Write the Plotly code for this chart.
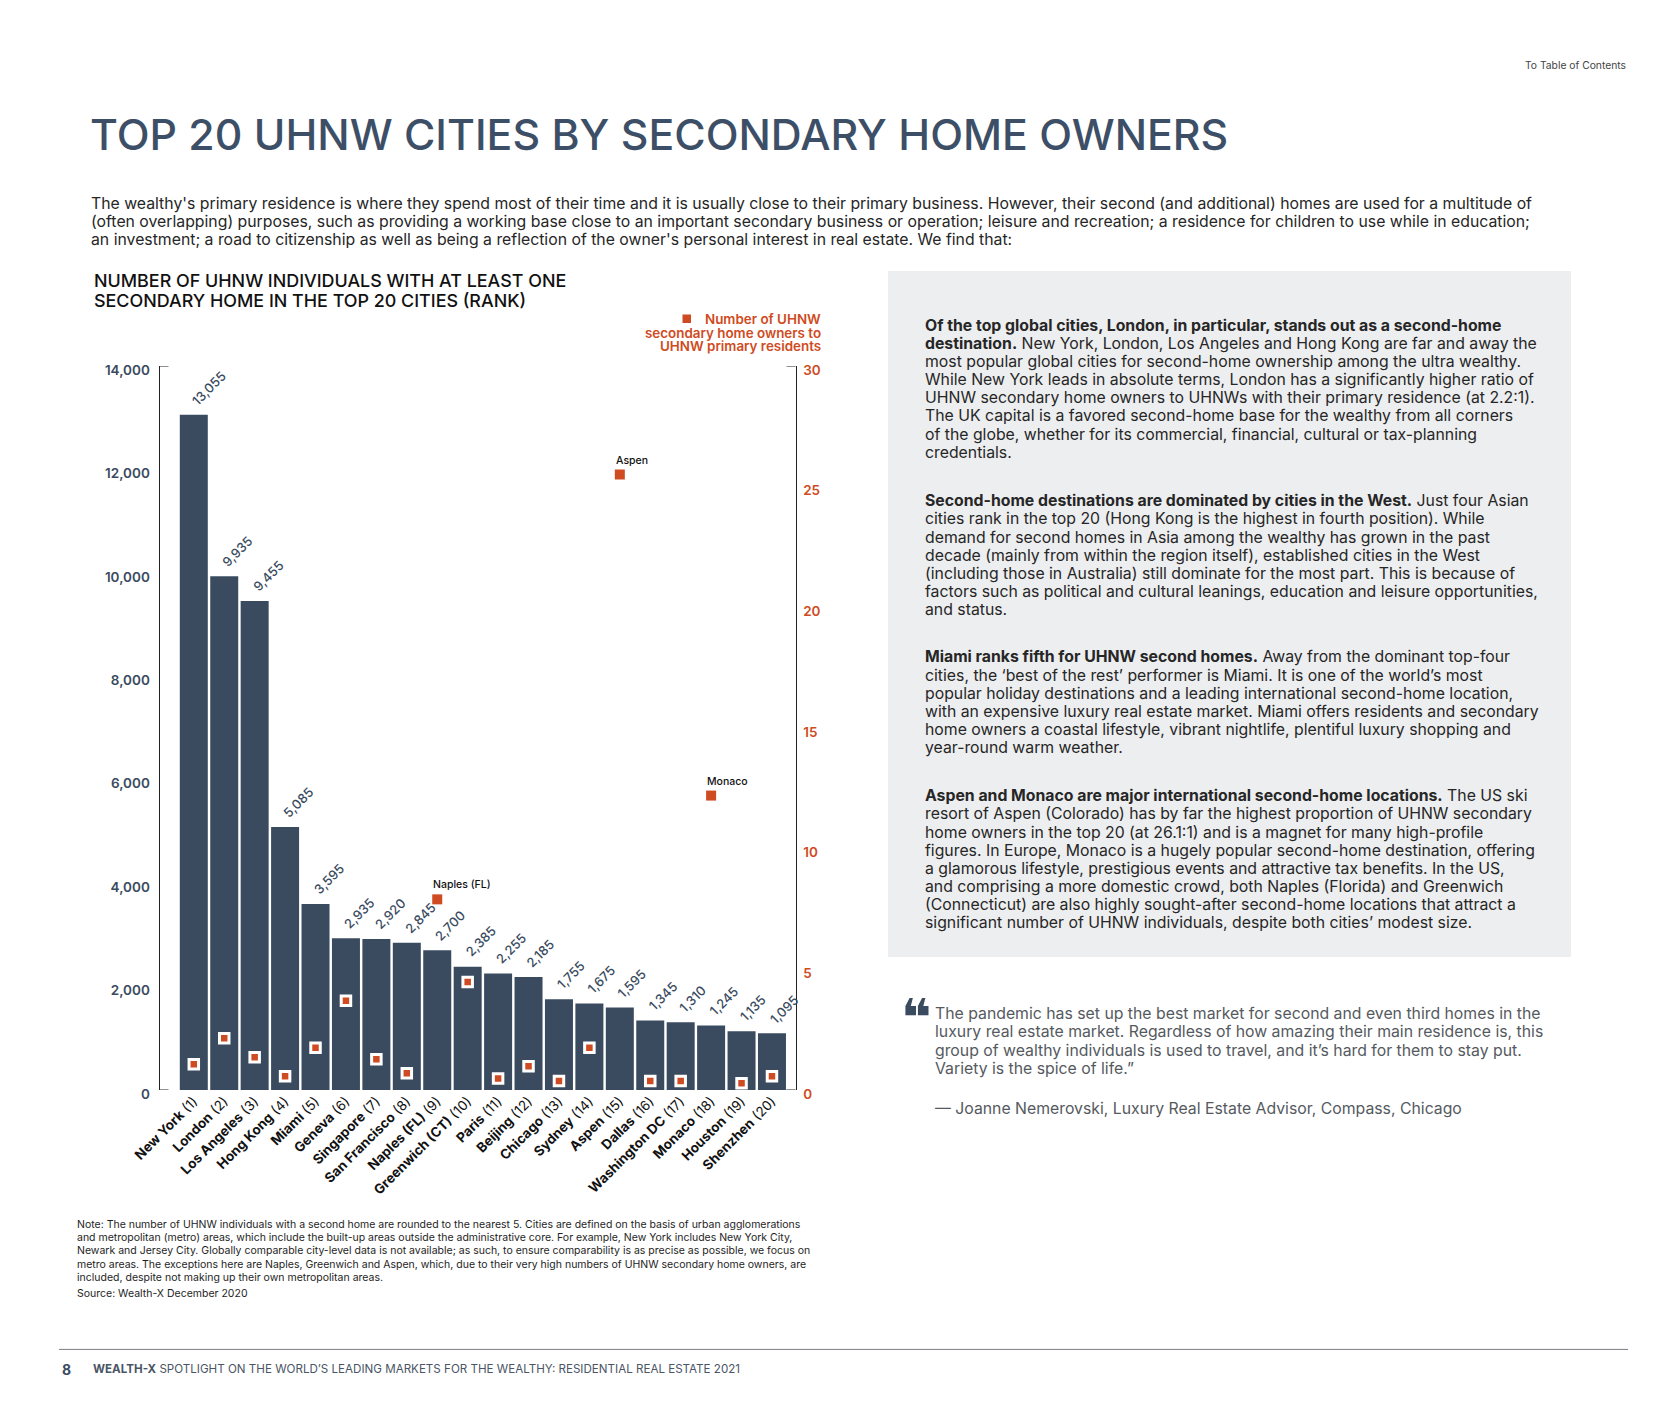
import plotly.graph_objects as go

# ---------------- data ----------------
cities = ["New York", "London", "Los Angeles", "Hong Kong", "Miami", "Geneva",
          "Singapore", "San Francisco", "Naples (FL)", "Greenwich (CT)", "Paris",
          "Beijing", "Chicago", "Sydney", "Aspen", "Dallas", "Washington DC",
          "Monaco", "Houston", "Shenzhen"]
ranks = list(range(1, 21))
owners = [13055, 9935, 9455, 5085, 3595, 2935, 2920, 2845, 2700, 2385,
          2255, 2185, 1755, 1675, 1595, 1345, 1310, 1245, 1135, 1095]
ratio = [1.07, 2.14, 1.36, 0.57, 1.75, 3.7, 1.27, 0.69, 7.9, 4.48,
         0.48, 0.98, 0.37, 1.75, 25.5, 0.37, 0.37, 12.2, 0.28, 0.57]
y_ticks = [0, 2000, 4000, 6000, 8000, 10000, 12000, 14000]
y2_ticks = [0, 5, 10, 15, 20, 25, 30]

# ---------------- style ----------------
W, H = 1680, 1403
FONT = "Inter"
SLATE = "#3a4b60"
TITLE_C = "#3d4f67"
ORANGE = "#cf4b22"
TEXT = "#262626"
GREY = "#555a60"
Y_MAX, Y2_MAX = 14000, 30


def px(x):
    return x / W


def py(y):
    return 1 - y / H


X0, X1 = 159.5, 795.5      # plot area, pixels
YB, YT = 1090, 366
STEP = 30.43
FIRST = 193.8
xr0 = -(FIRST - X0) / STEP
xr1 = xr0 + (X1 - X0) / STEP

fig = go.Figure()

fig.add_trace(go.Bar(
    x=cities, y=owners, marker=dict(color=SLATE, line=dict(width=0)),
    width=0.92, showlegend=False, hoverinfo="x+y"))

scale = Y_MAX / Y2_MAX
on_bar = [r * scale < v for r, v in zip(ratio, owners)]
sizes = [9.5 if ob else 10 for ob in on_bar]
lws = [3 if ob else 0 for ob in on_bar]
fig.add_trace(go.Scatter(
    x=cities, y=ratio, yaxis="y2", mode="markers", showlegend=False,
    marker=dict(symbol="square", size=sizes, color=ORANGE, opacity=1,
                line=dict(color="white", width=lws))))

ann = []


def text(x, y, s, size, color=TEXT, weight=400, xanchor="left", yanchor="middle", family=FONT, **kw):
    ann.append(dict(x=px(x), y=py(y), xref="paper", yref="paper", text=s,
                    showarrow=False, xanchor=xanchor, yanchor=yanchor,
                    font=dict(family=family, size=size, color=color, weight=weight), **kw))


# bar value labels
for c, v in zip(cities, owners):
    ann.append(dict(x=c, y=v, xref="x", yref="y", text=f"{v:,}", showarrow=False,
                    textangle=-45, xanchor="left", yanchor="bottom", xshift=-8, yshift=4,
                    font=dict(family=FONT, size=13, color=SLATE, weight=500)))

# labels for points above bars
for c, r, ob in zip(cities, ratio, on_bar):
    if not ob:
        ann.append(dict(x=c, y=r, xref="x", yref="y2", text=c, showarrow=False,
                        xanchor="left", yanchor="bottom", xshift=-6, yshift=6,
                        font=dict(family=FONT, size=10.5, color="#111111", weight=500)))

# header
text(1628, 65, "To Table of Contents", 10.3, color="#444444", xanchor="right")
text(88, 135, "TOP 20 UHNW CITIES BY SECONDARY HOME OWNERS", 42.8, color=TITLE_C, weight=500)

intro = [
    "The wealthy's primary residence is where they spend most of their time and it is usually close to their primary business. However, their second (and additional) homes are used for a multitude of",
    "(often overlapping) purposes, such as providing a working base close to an important secondary business or operation; leisure and recreation; a residence for children to use while in education;",
    "an investment; a road to citizenship as well as being a reflection of the owner's personal interest in real estate. We find that:",
]
for i, line in enumerate(intro):
    text(88.5, 203.5 + i * 18.2, line, 15.8, color=TEXT)

# chart title
text(92, 280.5, "NUMBER OF UHNW INDIVIDUALS WITH AT LEAST ONE", 17.9, color="#111111", weight=500)
text(92, 300, "SECONDARY HOME IN THE TOP 20 CITIES (RANK)", 17.9, color="#111111", weight=500)

# legend
leg = ["Number of UHNW", "secondary home owners to", "UHNW primary residents"]
for i, line in enumerate(leg):
    text(823, 319 + i * 13.5, line, 13.4, color=ORANGE, weight=600, xanchor="right")

# note
note = [
    "Note: The number of UHNW individuals with a second home are rounded to the nearest 5. Cities are defined on the basis of urban agglomerations",
    "and metropolitan (metro) areas, which include the built-up areas outside the administrative core. For example, New York includes New York City,",
    "Newark and Jersey City. Globally comparable city-level data is not available; as such, to ensure comparability is as precise as possible, we focus on",
    "metro areas. The exceptions here are Naples, Greenwich and Aspen, which, due to their very high numbers of UHNW secondary home owners, are",
    "included, despite not making up their own metropolitan areas.",
]
for i, line in enumerate(note):
    text(74.5, 1224.4 + i * 13.2, line, 10.5, color="#1e1e1e")
text(74.5, 1293.4, "Source: Wealth-X December 2020", 10.5, color="#1e1e1e")

# grey box paragraphs
paras = [
    (325.2, [
        "<b>Of the top global cities, London, in particular, stands out as a second-home</b>",
        "<b>destination.</b> New York, London, Los Angeles and Hong Kong are far and away the",
        "most popular global cities for second-home ownership among the ultra wealthy.",
        "While New York leads in absolute terms, London has a significantly higher ratio of",
        "UHNW secondary home owners to UHNWs with their primary residence (at 2.2:1).",
        "The UK capital is a favored second-home base for the wealthy from all corners",
        "of the globe, whether for its commercial, financial, cultural or tax-planning",
        "credentials.",
    ]),
    (500.8, [
        "<b>Second-home destinations are dominated by cities in the West.</b> Just four Asian",
        "cities rank in the top 20 (Hong Kong is the highest in fourth position). While",
        "demand for second homes in Asia among the wealthy has grown in the past",
        "decade (mainly from within the region itself), established cities in the West",
        "(including those in Australia) still dominate for the most part. This is because of",
        "factors such as political and cultural leanings, education and leisure opportunities,",
        "and status.",
    ]),
    (656.9, [
        "<b>Miami ranks fifth for UHNW second homes.</b> Away from the dominant top-four",
        "cities, the ‘best of the rest’ performer is Miami. It is one of the world’s most",
        "popular holiday destinations and a leading international second-home location,",
        "with an expensive luxury real estate market. Miami offers residents and secondary",
        "home owners a coastal lifestyle, vibrant nightlife, plentiful luxury shopping and",
        "year-round warm weather.",
    ]),
    (795.8, [
        "<b>Aspen and Monaco are major international second-home locations.</b> The US ski",
        "resort of Aspen (Colorado) has by far the highest proportion of UHNW secondary",
        "home owners in the top 20 (at 26.1:1) and is a magnet for many high-profile",
        "figures. In Europe, Monaco is a hugely popular second-home destination, offering",
        "a glamorous lifestyle, prestigious events and attractive tax benefits. In the US,",
        "and comprising a more domestic crowd, both Naples (Florida) and Greenwich",
        "(Connecticut) are also highly sought-after second-home locations that attract a",
        "significant number of UHNW individuals, despite both cities’ modest size.",
    ]),
]
for y0, lines in paras:
    for i, line in enumerate(lines):
        text(923, y0 + i * 18.15, line, 15.8, color=TEXT)

# quote
text(916.5, 1017.5, "❝", 52, color=SLATE, weight=700, family="DejaVu Sans", xanchor="center")
quote = [
    "The pandemic has set up the best market for second and even third homes in the",
    "luxury real estate market. Regardless of how amazing their main residence is, this",
    "group of wealthy individuals is used to travel, and it’s hard for them to stay put.",
    "Variety is the spice of life.”",
]
for i, line in enumerate(quote):
    text(932.5, 1013.4 + i * 18.3, line, 15.8, color=GREY)
text(932.5, 1108.1, "— Joanne Nemerovski, Luxury Real Estate Advisor, Compass, Chicago", 15.8, color=GREY)

# footer
text(66.7, 1369, "8", 14, color=SLATE, weight=700, xanchor="center")
text(91, 1369, "<b>WEALTH-X</b> SPOTLIGHT ON THE WORLD’S LEADING MARKETS FOR THE WEALTHY: RESIDENTIAL REAL ESTATE 2021",
     11.6, color="#4a5566")

shapes = [
    # grey box
    dict(type="rect", xref="paper", yref="paper", x0=px(888), x1=px(1571), y0=py(957), y1=py(271),
         fillcolor="#edeef0", line=dict(width=0), layer="below"),
    # footer rule
    dict(type="line", xref="paper", yref="paper", x0=px(59), x1=px(1628), y0=py(1349.4), y1=py(1349.4),
         line=dict(color="#7a7f86", width=1)),
    # legend square
    dict(type="rect", xref="paper", yref="paper", x0=px(682.5), x1=px(691), y0=py(323), y1=py(314.5),
         fillcolor=ORANGE, line=dict(width=0)),
]
# axis bracket ticks
for yv in (0, Y_MAX):
    shapes.append(dict(type="line", xref="paper", yref="y", x0=px(X0), x1=px(X0 + 9), y0=yv, y1=yv,
                       line=dict(color="#222222", width=1)))
for yv in (0, Y2_MAX):
    shapes.append(dict(type="line", xref="paper", yref="y2", x0=px(X1 - 9), x1=px(X1), y0=yv, y1=yv,
                       line=dict(color="#222222", width=1)))

fig.update_layout(
    width=W, height=H, autosize=False,
    margin=dict(l=0, r=0, t=0, b=0, pad=0, autoexpand=False),
    paper_bgcolor="white", plot_bgcolor="white",
    font=dict(family=FONT, color=TEXT),
    bargap=0.08,
    annotations=ann, shapes=shapes,
    xaxis=dict(domain=[px(X0), px(X1)], range=[xr0, xr1], type="category", automargin=False,
               tickvals=cities,
               ticktext=[f"<b>{c}</b> ({r})" for c, r in zip(cities, ranks)],
               tickangle=-45, ticks="", showline=False, showgrid=False, zeroline=False,
               tickfont=dict(family=FONT, size=13.5, color="#111111")),
    yaxis=dict(domain=[py(YB), py(YT)], range=[0, Y_MAX], tickvals=y_ticks, tickformat=",",
               automargin=False,
               showline=True, linecolor="#222222", linewidth=1, ticks="", showgrid=False,
               zeroline=False, ticklabelstandoff=6, ticklabelshift=4,
               tickfont=dict(family=FONT, size=13.5, color=SLATE, weight=600)),
    yaxis2=dict(overlaying="y", side="right", anchor="x", range=[0, Y2_MAX], tickvals=y2_ticks,
                automargin=False,
                showline=True, linecolor="#222222", linewidth=1, ticks="", showgrid=False,
                zeroline=False, ticklabelstandoff=4, ticklabelshift=4,
                tickfont=dict(family=FONT, size=13.5, color=ORANGE, weight=600)),
)

fig.write_html("out.html", config={"displayModeBar": False},
               post_script="document.body.style.margin='0';document.body.style.overflow='hidden';")
